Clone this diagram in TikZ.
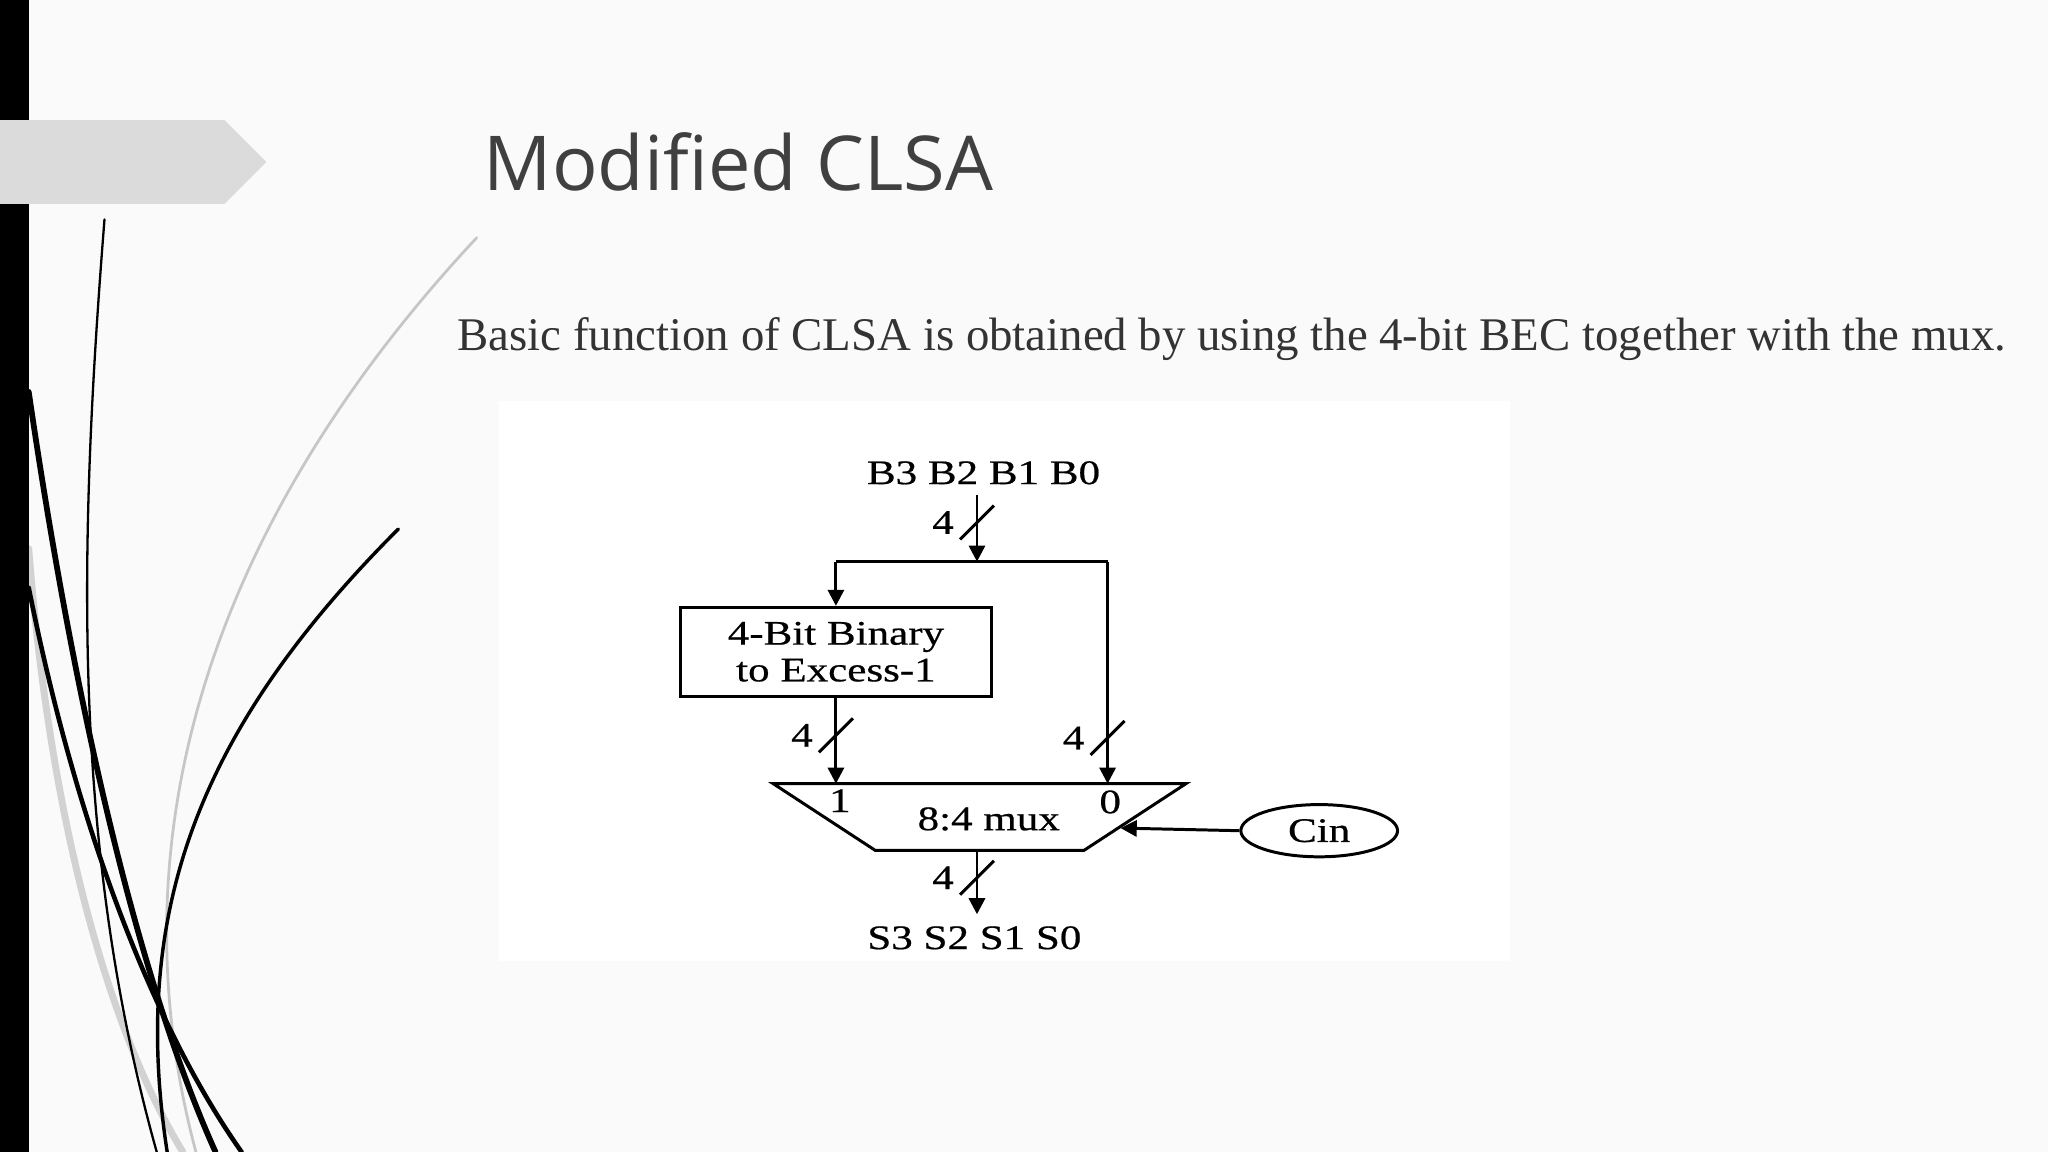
\documentclass[tikz,border=0pt]{standalone}
\usepackage{fontspec}
\setmainfont{Liberation Serif}
\newfontfamily\titlefont{Open Sans}
\newfontfamily\diagfont[FakeStretch=1.25,FakeBold=0.6]{Liberation Serif}
\usetikzlibrary{arrows.meta,shapes.geometric}
\begin{document}
\begin{tikzpicture}[x=0.02cm,y=-0.02cm,
  wire/.style={line width=1.3pt},
  arr/.style={wire,-{Triangle[length=7pt,width=7pt]}},
  lbl/.style={font=\diagfont\fontsize{15}{16}\selectfont, inner sep=0pt},
  deco/.style={line width=#1, line cap=round}]
\fill[gray!4] (0,0) rectangle (1568,882);
\useasboundingbox (0,0) rectangle (1568,882);
% decorative curves
\draw[deco=1.2pt, gray!45] (365,182) .. controls (180,380) and (80,620) .. (150,882);
\draw[deco=3pt, gray!35] (22,420) .. controls (40,650) and (90,800) .. (140,882);
\draw[deco=1pt, black] (80,168) .. controls (60,420) and (55,650) .. (120,882);
\draw[deco=2.5pt, black] (22,300) .. controls (60,560) and (110,760) .. (165,882);
\draw[deco=1.5pt, black] (305,405) .. controls (150,560) and (100,700) .. (128,882);
\draw[deco=2pt, black] (22,450) .. controls (60,640) and (120,790) .. (185,882);
\fill[black] (0,0) rectangle (22,882);
\fill[gray!28] (0,92) -- (172,92) -- (204,124) -- (172,156) -- (0,156) -- cycle;
\node[anchor=base west, inner sep=0pt, text=black!75, font=\titlefont\fontsize{33}{36}\selectfont] (title) at (370,146) {Modified CLSA};
\node[anchor=base west, inner sep=0pt, text=black!80, font=\fontsize{20.4}{23}\selectfont] (sub) at (350,268) {Basic function of CLSA is obtained by using the 4-bit BEC together with the mux.};
\fill[white] (382,307) rectangle (1156,736);
% diagram
\node[lbl] (bin) at (753,362) {B3 B2 B1 B0};
\coordinate (split) at (748,430);
\coordinate (lt) at (640,430);
\coordinate (rt) at (848,430);
\node[draw, wire, inner sep=0pt, lbl, align=center, minimum width=4.76cm, minimum height=1.36cm] (bec) at (640,499) {4-Bit Binary\\to Excess-1};
\coordinate (m1) at (640,600);
\coordinate (m0) at (848,600);
\draw[wire] (592,600) -- (908,600) -- (830,651) -- (670,651) -- cycle;
\coordinate (mout) at (748,651);
\coordinate (cinin) at (858,634);
\node[lbl] (one) at (643,613) {1};
\node[lbl] (zero) at (850,614) {0};
\node[lbl] (mux) at (757,627) {8:4 mux};
\node[draw, wire, ellipse, minimum width=2.4cm, minimum height=0.8cm, lbl] (cin) at (1010,636) {Cin};
\node[lbl] (sout) at (746,718) {S3 S2 S1 S0};
\coordinate (send) at (748,700);
\draw[arr] (bin.south) ++(-5,8) -- (split);
\draw[wire] (lt) -- (rt);
\draw[arr] (lt) -- (bec.north);
\draw[arr] (rt) -- (m0);
\draw[arr] (bec.south) -- (m1);
\draw[arr] (mout) -- (send);
\draw[arr] (cin.west) -- (cinin);
% bus slashes
\foreach \x/\y/\n in {748/400/a, 640/563/b, 848/565/c, 748/672/d}{
  \draw[wire] (\x-13,\y+13) -- (\x+13,\y-13);
  \node[lbl] (s\n) at (\x-26,\y) {4};
}
\end{tikzpicture}
\end{document}
